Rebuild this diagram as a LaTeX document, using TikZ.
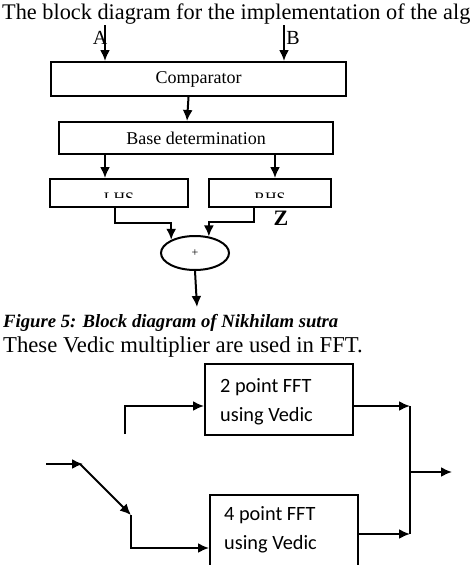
\documentclass[tikz,border=0pt]{standalone}
\usepackage{fontspec}
\setmainfont{Liberation Serif}
\newfontfamily\calfont{Carlito}
\usetikzlibrary{calc,arrows.meta,positioning,shapes.geometric}

\begin{document}
\begin{tikzpicture}[
  x=1pt, y=-1pt,
  blockbox/.style={
    rectangle,
    draw=black,
    line width=2pt,
    inner sep=0pt,
    font=\fontsize{18}{20}\selectfont
  },
  fftbox/.style={
    rectangle,
    draw=black,
    line width=2pt,
    inner sep=0pt
  },
  arr/.style={
    line width=2pt,
    -{Latex[length=11pt, width=10pt]}
  },
  wire/.style={
    line width=2pt
  }
  ]
  \useasboundingbox (0,0) rectangle (474,565);

  % text lines
  \node[anchor=base west, inner sep=0pt, font=\fontsize{22.3}{24}\selectfont] (intro) at (2,19) {The block diagram for the implementation of the alg};
  \node[anchor=base west, inner sep=0pt, font=\fontsize{18.7}{20}\selectfont\bfseries\itshape] (caption) at (3,327) {Figure 5: Block diagram of Nikhilam sutra};
  \node[anchor=base west, inner sep=0pt, font=\fontsize{22.7}{24}\selectfont] (vedic) at (3,352) {These Vedic multiplier are used in FFT.};

  % nikhilam sutra
  \begin{scope}
    \node[anchor=north west, blockbox, minimum width=295, minimum height=34] (comp) at (50,61) {Comparator};
    \node[anchor=north west, blockbox, minimum width=274, minimum height=32] (base) at (58,121) {Base determination};
    \node[anchor=north west, blockbox, minimum width=138, minimum height=28] (lhs) at (49,178) {};
    \node[anchor=north west, blockbox, minimum width=122, minimum height=28] (rhs) at (208,178) {};
    \begin{scope}
      \clip (40,180) rectangle (340,197.5);
      \node[anchor=base, inner sep=0pt, font=\fontsize{16}{18}\selectfont] (lhs-text) at ($(lhs.north)+(0,25)$) {LHS};
      \node[anchor=base, inner sep=0pt, font=\fontsize{16}{18}\selectfont] (rhs-text) at ($(rhs.north)+(0,25)$) {RHS};
    \end{scope}
    \node[ellipse, draw=black, line width=2pt, minimum width=68, minimum height=34, inner sep=0pt, font=\fontsize{12}{14}\selectfont] (sum) at (195,253) {+};

    \coordinate (a-in) at (105,25);
    \coordinate (b-in) at (284,25);
    \coordinate (sum-out) at (197,307);
    \node[font=\fontsize{20}{22}\selectfont, inner sep=0pt] (a-label) at (100,38) {A};
    \node[font=\fontsize{20}{22}\selectfont, inner sep=0pt] (b-label) at (293,38) {B};
    \node[font=\fontsize{22}{24}\selectfont\bfseries, inner sep=0pt] (z-label) at (281,218) {Z};
  \end{scope}

  \draw[arr] (a-in) -- (a-in |- comp.north);
  \draw[arr] (b-in) -- (b-in |- comp.north);
  \draw[arr] ($(comp.south)+(-10,0)$) -- ($(base.north west)+(129,0)$);
  \draw[arr] ($(base.south west)+(47,0)$) -- ($(lhs.north west)+(56,0)$);
  \draw[arr] ($(base.south west)+(217,0)$) -- ($(rhs.north west)+(67,0)$);
  \draw[arr] ($(lhs.south west)+(66,0)$) |- ($(sum.151)+(0,-17)$) -- (sum.151);
  \draw[arr] ($(rhs.south west)+(46,0)$) |- ($(sum.50)+(0,-14)$) -- (sum.50);
  \draw[arr] (sum.south) -- (sum-out);

  % fft with vedic multiplier
  \begin{scope}
    \node[anchor=north west, fftbox, minimum width=148, minimum height=71] (fft2) at (204,363) {};
    \node[anchor=north west, fftbox, minimum width=148, minimum height=71] (fft4) at (209,494) {};
    \node[anchor=north west, inner sep=0pt, align=left, font=\calfont\fontsize{20.3}{29}\selectfont] (fft2-text) at (220,378) {2 point FFT\\using Vedic};
    \node[anchor=north west, inner sep=0pt, align=left, font=\calfont\fontsize{20.3}{29}\selectfont] (fft4-text) at (224,506) {4 point FFT\\using Vedic};

    \coordinate (in2) at (125,434);
    \coordinate (in) at (46,464);
    \coordinate (split) at (83,464);
    \coordinate (bend) at (131,515);
    \coordinate (join-top) at (410,406);
    \coordinate (join-bot) at (410,534);
    \coordinate (join-mid) at (410,472);
    \coordinate (out) at (452,472);
  \end{scope}

  \draw[arr] (in2) |- ($(fft2.north west)+(0,43)$);
  \draw[arr] ($(fft2.north east)+(0,43)$) -- (join-top);
  \draw[arr] ($(fft4.north east)+(0,40)$) -- (join-bot);
  \draw[wire] (join-top) -- (join-bot);
  \draw[arr] (join-mid) -- (out);
  \draw[arr] (in) -- (split);
  \draw[arr] ($(split)+(-3,0)$) -- (bend);
  \draw[arr] (bend) |- ($(fft4.north west)+(0,54)$);

\end{tikzpicture}
\end{document}
